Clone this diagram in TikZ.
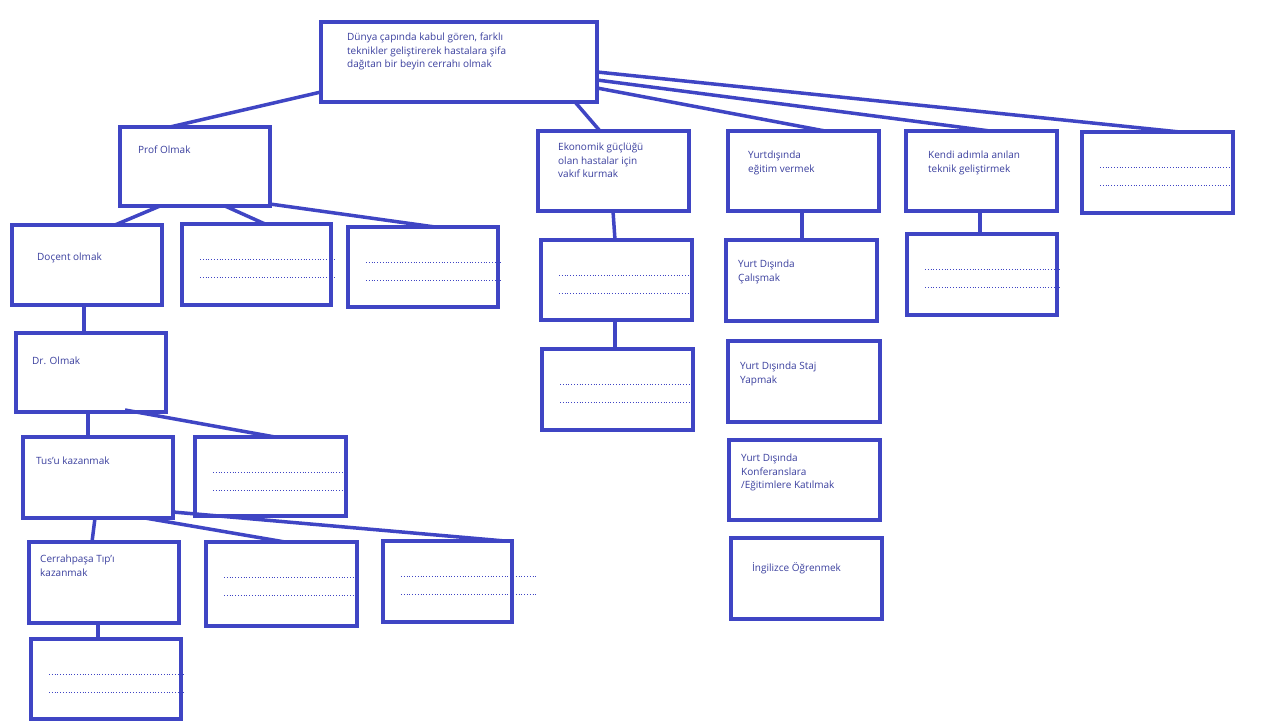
\documentclass[tikz,border=0pt]{standalone}
\usepackage{fontspec}
\setmainfont{Open Sans}
\definecolor{bc}{HTML}{3F45C4}
\definecolor{tc}{HTML}{3A3F9E}
\newcommand\bx[5]{\node[box,minimum width=#4pt-#2pt,minimum height=#5pt-#3pt] (#1) at (#2,#3) {};}
\newcommand\dt[1]{\draw[dl] ([xshift=18pt,yshift=-35pt]#1.north west) -- ++(137pt,0);
  \draw[dl] ([xshift=18pt,yshift=-53pt]#1.north west) -- ++(137pt,0);}
\newcommand\tx[4]{\node[txt] (#1-t) at ([xshift=#2pt,yshift=-#3pt]#1.north west) {#4};}
\begin{document}
\begin{tikzpicture}[x=1pt,y=-1pt,
 box/.style={draw=bc,line width=3.5pt,anchor=north west,inner sep=0,outer sep=0},
 dl/.style={draw=bc,line width=0.8pt,dotted},
 txt/.style={anchor=north west,inner sep=0,text=tc,font=\fontsize{10}{13.5}\selectfont,align=left},
 cn/.style={draw=bc,line width=3.5pt}]
\useasboundingbox[fill=white] (0,0) rectangle (1266,728);
\bx{top}{321}{22}{597}{102}
\bx{prof}{120}{127}{270}{206}
\bx{doc}{12}{225}{162}{305}
\bx{d1}{182}{224}{331}{305}
\bx{d2}{348}{227}{498}{307}
\bx{dr}{16}{333}{166}{412}
\bx{tus}{23}{437}{173}{518}
\bx{d3}{195}{437}{346}{516}
\bx{cer}{29}{542}{179}{623}
\bx{d4}{206}{542}{357}{626}
\bx{d5}{383}{541}{512}{622}
\bx{d6}{31}{639}{181}{719}
\bx{eko}{538}{131}{689}{211}
\bx{d7}{541}{240}{692}{320}
\bx{d8}{542}{349}{693}{430}
\bx{yur}{728}{131}{879}{211}
\bx{cal}{726}{240}{877}{321}
\bx{sta}{728}{341}{880}{422}
\bx{kon}{729}{440}{880}{520}
\bx{ing}{731}{538}{882}{619}
\bx{ken}{906}{131}{1057}{211}
\bx{d9}{907}{234}{1057}{315}
\bx{d10}{1082}{132}{1233}{213}
\foreach \n in {d1,d2,d3,d4,d5,d6,d7,d8,d9,d10}{\dt{\n}}
\tx{top}{26}{11}{Dünya çapında kabul gören, farklı\\teknikler geliştirerek hastalara şifa\\dağıtan bir beyin cerrahı olmak}
\tx{prof}{18}{19}{Prof Olmak}
\tx{doc}{25}{28}{Doçent olmak}
\tx{dr}{16}{24}{Dr. Olmak}
\tx{tus}{13}{20}{Tus'u kazanmak}
\tx{cer}{11}{13}{Cerrahpaşa Tıp'ı\\kazanmak}
\tx{eko}{20}{12}{Ekonomik güçlüğü\\olan hastalar için\\vakıf kurmak}
\tx{yur}{20}{20}{Yurtdışında\\eğitim vermek}
\tx{cal}{12}{20}{Yurt Dışında\\Çalışmak}
\tx{sta}{12}{21}{Yurt Dışında Staj\\Yapmak}
\tx{kon}{12}{14}{Yurt Dışında\\Konferanslara\\/Eğitimlere Katılmak}
\tx{ing}{21}{24}{İngilizce Öğrenmek}
\tx{ken}{22}{20}{Kendi adımla anılan\\teknik geliştirmek}
\draw[cn] ([yshift=-70pt]top.north west) -- ([xshift=50pt]prof.north west);
\draw[cn] ([xshift=254pt]top.south west) -- ([xshift=62pt]eko.north west);
\draw[cn] ([yshift=-66pt]top.north east) -- ([xshift=97pt]yur.north west);
\draw[cn] ([yshift=-58pt]top.north east) -- ([xshift=84pt]ken.north west);
\draw[cn] ([yshift=-50pt]top.north east) -- ([xshift=98pt]d10.north west);
\draw[cn] ([xshift=40pt]prof.south west) -- ([xshift=103pt]doc.north west);
\draw[cn] ([xshift=105pt]prof.south west) -- ([xshift=83pt]d1.north west);
\draw[cn] ([yshift=2pt]prof.south east) -- ([xshift=87pt]d2.north west);
\draw[cn] ([xshift=72pt]doc.south west) -- ([xshift=68pt]dr.north west);
\draw[cn] ([xshift=72pt]dr.south west) -- ([xshift=65pt]tus.north west);
\draw[cn] ([xshift=109pt,yshift=2pt]dr.south west) -- ([xshift=80pt]d3.north west);
\draw[cn] ([xshift=72pt]tus.south west) -- ([xshift=63pt]cer.north west);
\draw[cn] ([xshift=122pt]tus.south west) -- ([xshift=79pt]d4.north west);
\draw[cn] ([yshift=6pt]tus.south east) -- ([xshift=122pt]d5.north west);
\draw[cn] ([xshift=69pt]cer.south west) -- ([xshift=67pt]d6.north west);
\draw[cn] ([xshift=75pt]eko.south west) -- ([xshift=74pt]d7.north west);
\draw[cn] ([xshift=74pt]d7.south west) -- ([xshift=73pt]d8.north west);
\draw[cn] ([xshift=74pt]yur.south west) -- ([xshift=76pt]cal.north west);
\draw[cn] ([xshift=74pt]ken.south west) -- ([xshift=73pt]d9.north west);
\end{tikzpicture}
\end{document}
